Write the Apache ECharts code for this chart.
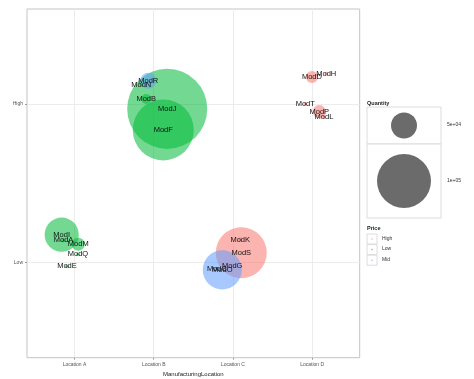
<!DOCTYPE html>
<html>
<head>
<meta charset="utf-8">
<script src="https://cdn.jsdelivr.net/npm/echarts@6/dist/echarts.min.js"></script>
<style>
html,body{margin:0;padding:0;background:#fff;}
#chart{width:474px;height:379px;}
</style>
</head>
<body>
<div id="chart"></div>
<script>
// ---- data ----
var models   = ['ModJ','ModF','ModB','ModR','ModN','ModI','ModA','ModM','ModQ','ModE','ModS','ModK','ModG','ModO','ModC','ModD','ModH','ModT','ModP','ModL'];
var locX     = [2.170, 2.120, 1.905, 1.931, 1.842, 0.838, 0.861, 1.047, 1.043, 0.904, 3.105, 3.092, 2.991, 2.865, 2.798, 3.997, 4.178, 3.913, 4.090, 4.149];
var powerY   = [1.970, 1.837, 2.032, 2.147, 2.122, 1.176, 1.141, 1.116, 1.053, 0.977, 1.062, 1.146, 0.981, 0.954, 0.961, 2.171, 2.192, 2.002, 1.953, 1.918];
var quantity = [178000,118000,37100,40600,35200,61000,35300,38700,35200,35200,93000,35300,35200,69000,35200,38100,35200,35200,38700,35200];
var price    = ['Low','Low','Low','Mid','Low','Low','Low','Low','Low','Low','High','High','High','Mid','Mid','High','High','High','High','High'];
var xCategories = ['Location A','Location B','Location C','Location D'];
var yCategories = ['Low','High'];
var priceLevels = ['High','Low','Mid'];
var sizeBreaks  = [50000, 100000];
var sizeBreakLabels = ['5e+04','1e+05'];

// ---- styles ----
var priceColors = {High:'#F8766D', Low:'#00BA38', Mid:'#619CFF'};
function diam(q){ return Math.sqrt(Math.max(9, -1564 + 0.0448*q)); }

var pts = models.map(function(m,i){
  return {name:m, value:[locX[i], powerY[i], quantity[i]],
          itemStyle:{color:priceColors[price[i]], opacity:0.55}};
});
var labelPts = models.map(function(m,i){
  return {name:m, value:[locX[i], powerY[i]]};
});

var chart = echarts.init(document.getElementById('chart'), null, {renderer:'canvas'});
var fam = 'Liberation Sans, Arial, sans-serif';

// legend graphics
var g = [];
g.push({type:'text', left:367, top:100, style:{text:'Quantity', font:'bold 5.5px '+fam, fill:'#222'}});
var keyTops = [107, 144], keyH = [37, 74];
for (var k=0;k<2;k++){
  g.push({type:'rect', shape:{x:367, y:keyTops[k], width:74, height:keyH[k]}, style:{fill:'#fff', stroke:'#dcdcdc', lineWidth:1}});
  g.push({type:'circle', shape:{cx:404, cy:keyTops[k]+keyH[k]/2, r:diam(sizeBreaks[k])/2}, style:{fill:'#6b6b6b'}});
  g.push({type:'text', left:447, top:keyTops[k]+keyH[k]/2-3, style:{text:sizeBreakLabels[k], font:'5px '+fam, fill:'#333'}});
}
g.push({type:'text', left:367, top:225, style:{text:'Price', font:'bold 5.5px '+fam, fill:'#222'}});
for (var p=0;p<3;p++){
  var ty = 234 + p*10.6;
  g.push({type:'rect', shape:{x:367, y:ty, width:10, height:10}, style:{fill:'#fff', stroke:'#dcdcdc', lineWidth:1}});
  g.push({type:'circle', shape:{cx:372, cy:ty+5, r:0.8}, style:{fill:priceColors[priceLevels[p]], opacity:0.6}});
  g.push({type:'text', left:382, top:ty+2, style:{text:priceLevels[p], font:'5px '+fam, fill:'#333'}});
}

chart.setOption({
  backgroundColor:'#fff',
  animation:false,
  grid:{left:27, top:9, right:114.3, bottom:21.3, show:true, borderColor:'#c4c4c4', borderWidth:1, backgroundColor:'#fff', containLabel:false, outerBoundsMode:'none'},
  xAxis:{type:'value', min:0.4, max:4.6,
    name:'ManufacturingLocation', nameLocation:'middle', nameGap:7,
    nameTextStyle:{fontSize:6, fontFamily:fam, color:'#222'},
    axisLine:{show:false},
    axisTick:{show:true, length:2, lineStyle:{color:'#999'}, customValues:[1,2,3,4]},
    axisLabel:{customValues:[1,2,3,4], margin:4, fontSize:5, fontFamily:fam, color:'#555',
      formatter:function(v){ return xCategories[Math.round(v)-1] || ''; }},
    splitLine:{show:true, lineStyle:{color:'#ececec', width:1}}
  },
  yAxis:{type:'value', min:0.4, max:2.6,
    name:'PowerSource', nameLocation:'middle', nameGap:14, nameRotate:90,
    nameTextStyle:{fontSize:6, fontFamily:fam, color:'#222'},
    axisLine:{show:false},
    axisTick:{show:true, length:2, lineStyle:{color:'#999'}, customValues:[1,2]},
    axisLabel:{customValues:[1,2], margin:4, fontSize:5, fontFamily:fam, color:'#555',
      formatter:function(v){ return yCategories[Math.round(v)-1] || ''; }},
    splitLine:{show:true, lineStyle:{color:'#ececec', width:1}}
  },
  graphic:g,
  series:[{
    type:'scatter',
    data:pts,
    symbolSize:function(v){ return diam(v[2]); },
    emphasis:{disabled:true},
    z:2
  },{
    type:'scatter',
    data:labelPts,
    symbolSize:0,
    itemStyle:{color:'rgba(0,0,0,0)'},
    label:{show:true, position:'inside', formatter:'{b}', fontSize:7.5, fontFamily:fam, color:'#111', opacity:1},
    labelLayout:{hideOverlap:false},
    emphasis:{disabled:true},
    z:3
  }]
});
</script>
</body>
</html>
